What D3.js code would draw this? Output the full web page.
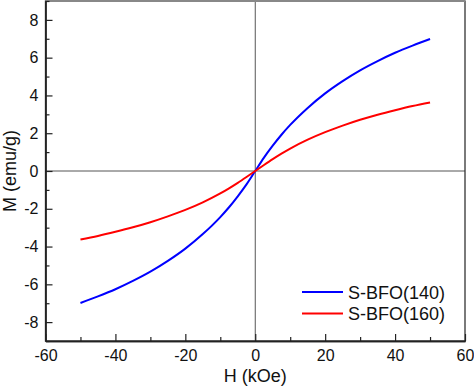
<!DOCTYPE html>
<html>
<head>
<meta charset="utf-8">
<script src="https://cdn.jsdelivr.net/npm/d3@7"></script>
<style>
  body { margin: 0; background: #fff; }
  svg { display: block; font-family: "Liberation Sans", Arial, sans-serif; }
</style>
</head>
<body>
<div class="js-canvas"></div>
<script>
'use strict';

// field values H (kOe)
const fieldH = [-50, -45, -40, -35, -30, -25, -20, -15, -10, -7.5, -5, -2.5, 0,
                2.5, 5, 7.5, 10, 15, 20, 25, 30, 35, 40, 45, 50];
const mBFO140 = [-6.99, -6.64, -6.26, -5.82, -5.33, -4.76, -4.11, -3.34, -2.44, -1.92, -1.34, -0.71, 0,
                 0.71, 1.34, 1.92, 2.44, 3.34, 4.11, 4.76, 5.33, 5.82, 6.26, 6.64, 6.99];
const mBFO160 = [-3.63, -3.44, -3.22, -2.98, -2.71, -2.40, -2.06, -1.66, -1.19, -0.92, -0.63, -0.32, 0,
                 0.32, 0.63, 0.92, 1.19, 1.66, 2.06, 2.40, 2.71, 2.98, 3.22, 3.44, 3.63];
const seriesNames = ['S-BFO(140)', 'S-BFO(160)'];
const seriesColors = ['#0000ff', '#ff0000'];
const xMajorTicks = [-60, -40, -20, 0, 20, 40, 60];
const xMinorTicks = [-50, -30, -10, 10, 30, 50];
const yMajorTicks = [-8, -6, -4, -2, 0, 2, 4, 6, 8];
const yMinorTicks = [-9, -7, -5, -3, -1, 1, 3, 5, 7, 9];

const config = {
    width: 474,
    height: 386,
    margin: { top: 1, right: 9, bottom: 45, left: 45.5 }
};

const graphWidth = config.width - config.margin.left - config.margin.right;
const graphHeight = config.height - config.margin.top - config.margin.bottom;

const svg = d3.select('.js-canvas')
    .append('svg')
    .attr('width', config.width)
    .attr('height', config.height);

const graph = svg.append('g')
    .attr('transform', `translate(${config.margin.left}, ${config.margin.top})`);

const x = d3.scaleLinear().domain([-60, 60]).range([0, graphWidth]);
const y = d3.scaleLinear().domain([-9, 9]).range([graphHeight, 0]);

// zero lines
graph.append('line')
    .attr('x1', 0).attr('x2', graphWidth)
    .attr('y1', y(0)).attr('y2', y(0))
    .attr('stroke', '#555').attr('stroke-width', 1);
graph.append('line')
    .attr('x1', x(0)).attr('x2', x(0))
    .attr('y1', 0).attr('y2', graphHeight)
    .attr('stroke', '#555').attr('stroke-width', 1);

// curves
const series = [mBFO140, mBFO160];
const line = d3.line()
    .x((d, i) => x(fieldH[i]))
    .y(d => y(d))
    .curve(d3.curveMonotoneX);

series.forEach((vals, k) => {
    graph.append('path')
        .datum(vals)
        .attr('fill', 'none')
        .attr('stroke', seriesColors[k])
        .attr('stroke-width', 2)
        .attr('d', line);
});

// frame (top edge is a lighter grey in the original)
graph.append('rect')
    .attr('x', 0).attr('y', 0)
    .attr('width', graphWidth).attr('height', graphHeight)
    .attr('fill', 'none')
    .attr('stroke', '#333')
    .attr('stroke-width', 1.3);
graph.append('line')
    .attr('x1', 0).attr('x2', graphWidth)
    .attr('y1', 0).attr('y2', 0)
    .attr('stroke', '#888')
    .attr('stroke-width', 2);

// axes, ticks point inward; plain hyphen for negatives like the original
const plain = d => String(d);
const xAxisGroup = graph.append('g').attr('transform', `translate(0, ${graphHeight})`);
xAxisGroup.call(d3.axisBottom(x).tickValues(xMajorTicks).tickFormat(plain)
    .tickSize(-7).tickSizeOuter(0).tickPadding(9));
const xMinorGroup = graph.append('g').attr('transform', `translate(0, ${graphHeight})`);
xMinorGroup.call(d3.axisBottom(x).tickValues(xMinorTicks).tickSize(-4).tickSizeOuter(0).tickFormat(''));

const yAxisGroup = graph.append('g');
yAxisGroup.call(d3.axisLeft(y).tickValues(yMajorTicks).tickFormat(plain)
    .tickSize(-7).tickSizeOuter(0).tickPadding(7));
const yMinorGroup = graph.append('g');
yMinorGroup.call(d3.axisLeft(y).tickValues(yMinorTicks).tickSize(-4).tickSizeOuter(0).tickFormat(''));

[xAxisGroup, xMinorGroup, yAxisGroup, yMinorGroup].forEach(g => {
    g.select('.domain').attr('stroke', '#222').attr('stroke-width', 1.3);
    g.selectAll('.tick line').attr('stroke', '#222').attr('stroke-width', 1.2);
    g.selectAll('text')
        .attr('font-family', '"Liberation Sans", Arial, sans-serif')
        .attr('font-size', 16)
        .attr('fill', '#111');
});

// axis titles
svg.append('text')
    .attr('x', config.margin.left + x(0))
    .attr('y', 382)
    .attr('text-anchor', 'middle')
    .attr('font-size', 18)
    .attr('fill', '#111')
    .text('H (kOe)');

svg.append('text')
    .attr('transform', `translate(16, ${config.margin.top + y(0)}) rotate(-90)`)
    .attr('text-anchor', 'middle')
    .attr('font-size', 18)
    .attr('fill', '#111')
    .text('M (emu/g)');

// legend
const legend = svg.append('g').attr('transform', 'translate(302, 292)');
seriesNames.forEach((name, k) => {
    const row = legend.append('g').attr('transform', `translate(0, ${k * 21.5})`);
    row.append('line')
        .attr('x1', 0).attr('x2', 41)
        .attr('y1', 0).attr('y2', 0)
        .attr('stroke', seriesColors[k])
        .attr('stroke-width', 2);
    row.append('text')
        .attr('x', 46)
        .attr('y', 6.5)
        .attr('font-size', 18)
        .attr('fill', '#111')
        .text(name);
});
</script>
</body>
</html>
